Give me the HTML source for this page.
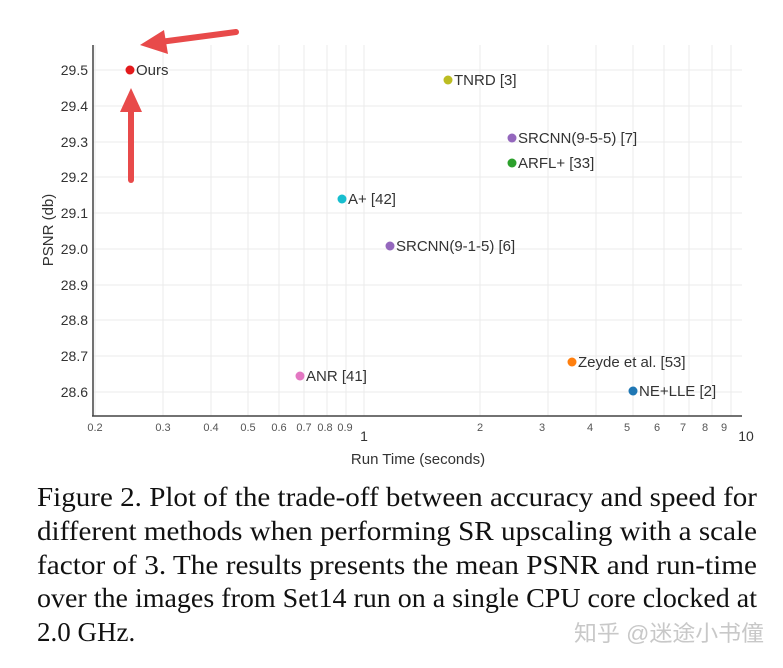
<!DOCTYPE html>
<html><head><meta charset="utf-8"><style>
html,body{margin:0;padding:0;background:#fff;}
svg{display:block;}
</style></head><body>
<svg width="783" height="668" xmlns="http://www.w3.org/2000/svg" font-family="Liberation Sans, DejaVu Sans, sans-serif">
<g stroke="#ebebeb" stroke-width="1">
<line x1="95" y1="45" x2="95" y2="416"/>
<line x1="163" y1="45" x2="163" y2="416"/>
<line x1="211" y1="45" x2="211" y2="416"/>
<line x1="248" y1="45" x2="248" y2="416"/>
<line x1="279" y1="45" x2="279" y2="416"/>
<line x1="304" y1="45" x2="304" y2="416"/>
<line x1="327" y1="45" x2="327" y2="416"/>
<line x1="346" y1="45" x2="346" y2="416"/>
<line x1="364" y1="45" x2="364" y2="416"/>
<line x1="480" y1="45" x2="480" y2="416"/>
<line x1="548" y1="45" x2="548" y2="416"/>
<line x1="596" y1="45" x2="596" y2="416"/>
<line x1="633" y1="45" x2="633" y2="416"/>
<line x1="664" y1="45" x2="664" y2="416"/>
<line x1="689" y1="45" x2="689" y2="416"/>
<line x1="712" y1="45" x2="712" y2="416"/>
<line x1="731" y1="45" x2="731" y2="416"/>
<line x1="93" y1="70" x2="742" y2="70"/>
<line x1="93" y1="106" x2="742" y2="106"/>
<line x1="93" y1="142" x2="742" y2="142"/>
<line x1="93" y1="177" x2="742" y2="177"/>
<line x1="93" y1="213" x2="742" y2="213"/>
<line x1="93" y1="249" x2="742" y2="249"/>
<line x1="93" y1="285" x2="742" y2="285"/>
<line x1="93" y1="320" x2="742" y2="320"/>
<line x1="93" y1="356" x2="742" y2="356"/>
<line x1="93" y1="392" x2="742" y2="392"/>
</g>
<g stroke="#444" stroke-width="1.5"><line x1="93" y1="45" x2="93" y2="416"/><line x1="92" y1="416" x2="742" y2="416"/></g>
<g font-size="14" fill="#333" text-anchor="end">
<text x="88" y="75">29.5</text><text x="88" y="111">29.4</text><text x="88" y="147">29.3</text>
<text x="88" y="182">29.2</text><text x="88" y="218">29.1</text><text x="88" y="254">29.0</text>
<text x="88" y="290">28.9</text><text x="88" y="325">28.8</text><text x="88" y="361">28.7</text>
<text x="88" y="397">28.6</text>
</g>
<g font-size="11" fill="#555" text-anchor="middle">
<text x="95" y="431">0.2</text><text x="163" y="431">0.3</text><text x="211" y="431">0.4</text>
<text x="248" y="431">0.5</text><text x="279" y="431">0.6</text><text x="304" y="431">0.7</text>
<text x="325" y="431">0.8</text><text x="345" y="431">0.9</text>
<text x="480" y="431">2</text><text x="542" y="431">3</text><text x="590" y="431">4</text>
<text x="627" y="431">5</text><text x="657" y="431">6</text><text x="683" y="431">7</text>
<text x="705" y="431">8</text><text x="724" y="431">9</text>
</g>
<g font-size="14" fill="#333" text-anchor="middle">
<text x="364" y="441">1</text><text x="746" y="441">10</text>
<text x="418" y="464" font-size="15">Run Time (seconds)</text>
<text transform="translate(53,230) rotate(-90)" font-size="15">PSNR (db)</text>
</g>
<g font-size="15" fill="#333">
<circle cx="130" cy="70" r="4.5" fill="#e31a1c"/><text x="136" y="75">Ours</text>
<circle cx="448" cy="80" r="4.5" fill="#bcbd22"/><text x="454" y="85">TNRD [3]</text>
<circle cx="512" cy="138" r="4.5" fill="#9467bd"/><text x="518" y="143">SRCNN(9-5-5) [7]</text>
<circle cx="512" cy="163" r="4.5" fill="#2ca02c"/><text x="518" y="168">ARFL+ [33]</text>
<circle cx="342" cy="199" r="4.5" fill="#17becf"/><text x="348" y="204">A+ [42]</text>
<circle cx="390" cy="246" r="4.5" fill="#9467bd"/><text x="396" y="251">SRCNN(9-1-5) [6]</text>
<circle cx="572" cy="362" r="4.5" fill="#ff7f0e"/><text x="578" y="367">Zeyde et al. [53]</text>
<circle cx="633" cy="391" r="4.5" fill="#1f77b4"/><text x="639" y="396">NE+LLE [2]</text>
<circle cx="300" cy="376" r="4.5" fill="#e377c2"/><text x="306" y="381">ANR [41]</text>
</g>
<g fill="#e84a4a" stroke="#e84a4a" stroke-linecap="round">
<line x1="236" y1="32" x2="160" y2="42" stroke-width="6"/>
<polygon points="140,45 164,30 168,54" stroke="none"/>
<line x1="131" y1="180" x2="131" y2="108" stroke-width="6"/>
<polygon points="131,88 120,112 142,112" stroke="none"/>
</g>
<g font-family="Liberation Serif, serif" font-size="27" fill="#111">
<text x="37" y="506" textLength="720" lengthAdjust="spacingAndGlyphs">Figure 2. Plot of the trade-off between accuracy and speed for</text>
<text x="37" y="540" textLength="720" lengthAdjust="spacingAndGlyphs">different methods when performing SR upscaling with a scale</text>
<text x="37" y="574" textLength="720" lengthAdjust="spacingAndGlyphs">factor of 3.  The results presents the mean PSNR and run-time</text>
<text x="37" y="607" textLength="720" lengthAdjust="spacingAndGlyphs">over the images from Set14 run on a single CPU core clocked at</text>
<text x="37" y="641">2.0 GHz.</text>
</g>
<text x="574" y="641" font-family="Liberation Sans, Noto Sans CJK SC, sans-serif" font-size="22" fill="#c8c8c8" textLength="190" lengthAdjust="spacingAndGlyphs">知乎 @迷途小书僮</text>
</svg>
</body></html>
